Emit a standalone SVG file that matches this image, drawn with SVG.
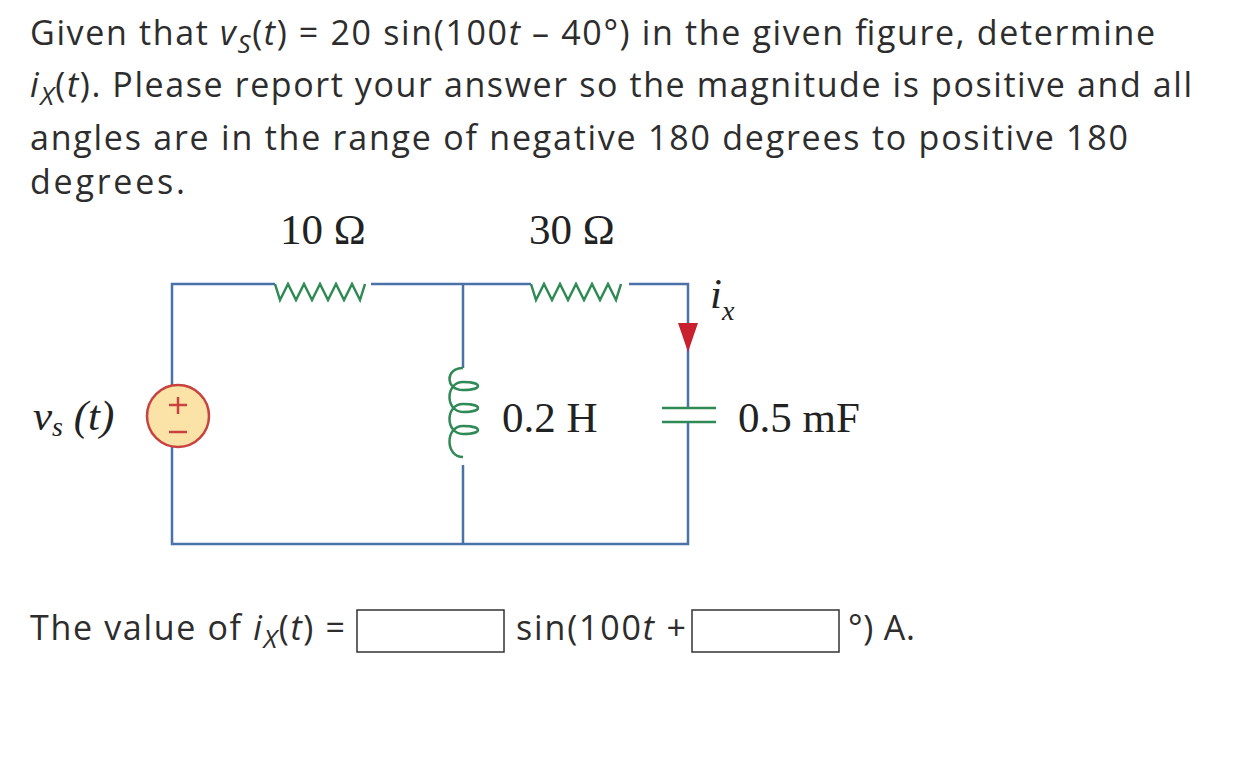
<svg xmlns="http://www.w3.org/2000/svg" width="1245" height="774" viewBox="0 0 1245 774">
<style>
.q{font-family:"Open Sans",Lato,sans-serif;font-size:34px;fill:#2d2d2d}
.c{font-family:"Liberation Serif",serif;font-size:43px;fill:#222}
.w{fill:none;stroke:#4a72a8;stroke-width:2.5}
.g{fill:none;stroke:#2f8a55;stroke-width:2.5}
.b{fill:#fff;stroke:#333;stroke-width:1.5}
</style>
<rect width="1245" height="774" fill="#fff"/>
<text class="q" x="30" y="45" textLength="1125" lengthAdjust="spacing">Given that <tspan font-style="italic">v</tspan><tspan font-style="italic" font-size="26" dy="8">S</tspan><tspan dy="-8">(</tspan><tspan font-style="italic">t</tspan>) = 20 sin(100<tspan font-style="italic">t</tspan> – 40°) in the given figure, determine</text>
<text class="q" x="30" y="97" textLength="1162" lengthAdjust="spacing"><tspan font-style="italic">i</tspan><tspan font-style="italic" font-size="26" dy="8">X</tspan><tspan dy="-8">(</tspan><tspan font-style="italic">t</tspan>). Please report your answer so the magnitude is positive and all</text>
<text class="q" x="30" y="150" textLength="1098" lengthAdjust="spacing">angles are in the range of negative 180 degrees to positive 180</text>
<text class="q" x="30" y="194" textLength="155" lengthAdjust="spacing">degrees.</text>
<g id="connectors">
<path class="w" d="M172 385 V284 H275 M371 284 H531 M629 284 H688 V408 M688 422 V544 H172 V447 M463 284 V368 M463 465 V544"/>
</g>
<g id="R1"><path class="g" d="M275 284 l5 16 l8 -16 l8 16 l8 -16 l8 16 l8 -16 l8 16 l8 -16 l8 16 l8 -16 l8 16 l5 -16"/>
<text class="c" x="280" y="244">10 Ω</text></g>
<g id="R2"><path class="g" d="M531 284 l5 16 l8 -16 l8 16 l8 -16 l8 16 l8 -16 l8 16 l8 -16 l8 16 l8 -16 l8 16 l5 -16"/>
<text class="c" x="529" y="244">30 Ω</text></g>
<g id="vs"><circle cx="178" cy="416" r="31" fill="#fbe3a8" stroke="#c8433f" stroke-width="2.5"/>
<path d="M178 397 v17 M169 405 h18 M169 432 h18" stroke="#c8433f" stroke-width="2.5"/>
<text class="c" x="33" y="430" font-style="italic" font-size="40">v<tspan font-size="28" dy="6">s</tspan><tspan dy="-6"> (t)</tspan></text></g>
<g id="L"><path class="g" d="M463 368 c-18 0 -18 22 0 22 c20 0 20 -8 0 -8 c-18 0 -18 30 0 30 c20 0 20 -8 0 -8 c-18 0 -18 30 0 30 c20 0 20 -8 0 -8 c-18 0 -18 31 0 31"/>
<text class="c" x="502" y="432">0.2 H</text></g>
<g id="C"><path class="g" d="M662 408 H716 M662 422 H716"/>
<text class="c" x="738" y="432">0.5 mF</text></g>
<g id="ix"><path d="M678 323 L698 323 L688 352 Z" fill="#c8202f"/>
<text class="c" x="710" y="308" font-style="italic" font-size="36">i<tspan font-size="28" dy="12">x</tspan></text></g>
<text class="q" x="30" y="640" textLength="315" lengthAdjust="spacing">The value of <tspan font-style="italic">i</tspan><tspan font-style="italic" font-size="26" dy="8">X</tspan><tspan dy="-8">(</tspan><tspan font-style="italic">t</tspan>) =</text>
<rect class="b" x="357" y="610" width="147" height="42"/>
<text class="q" x="516" y="640" textLength="170" lengthAdjust="spacing">sin(100<tspan font-style="italic">t</tspan> +</text>
<rect class="b" x="692" y="610" width="147" height="42"/>
<text class="q" x="848" y="640" textLength="67" lengthAdjust="spacing">°) A.</text>
</svg>
